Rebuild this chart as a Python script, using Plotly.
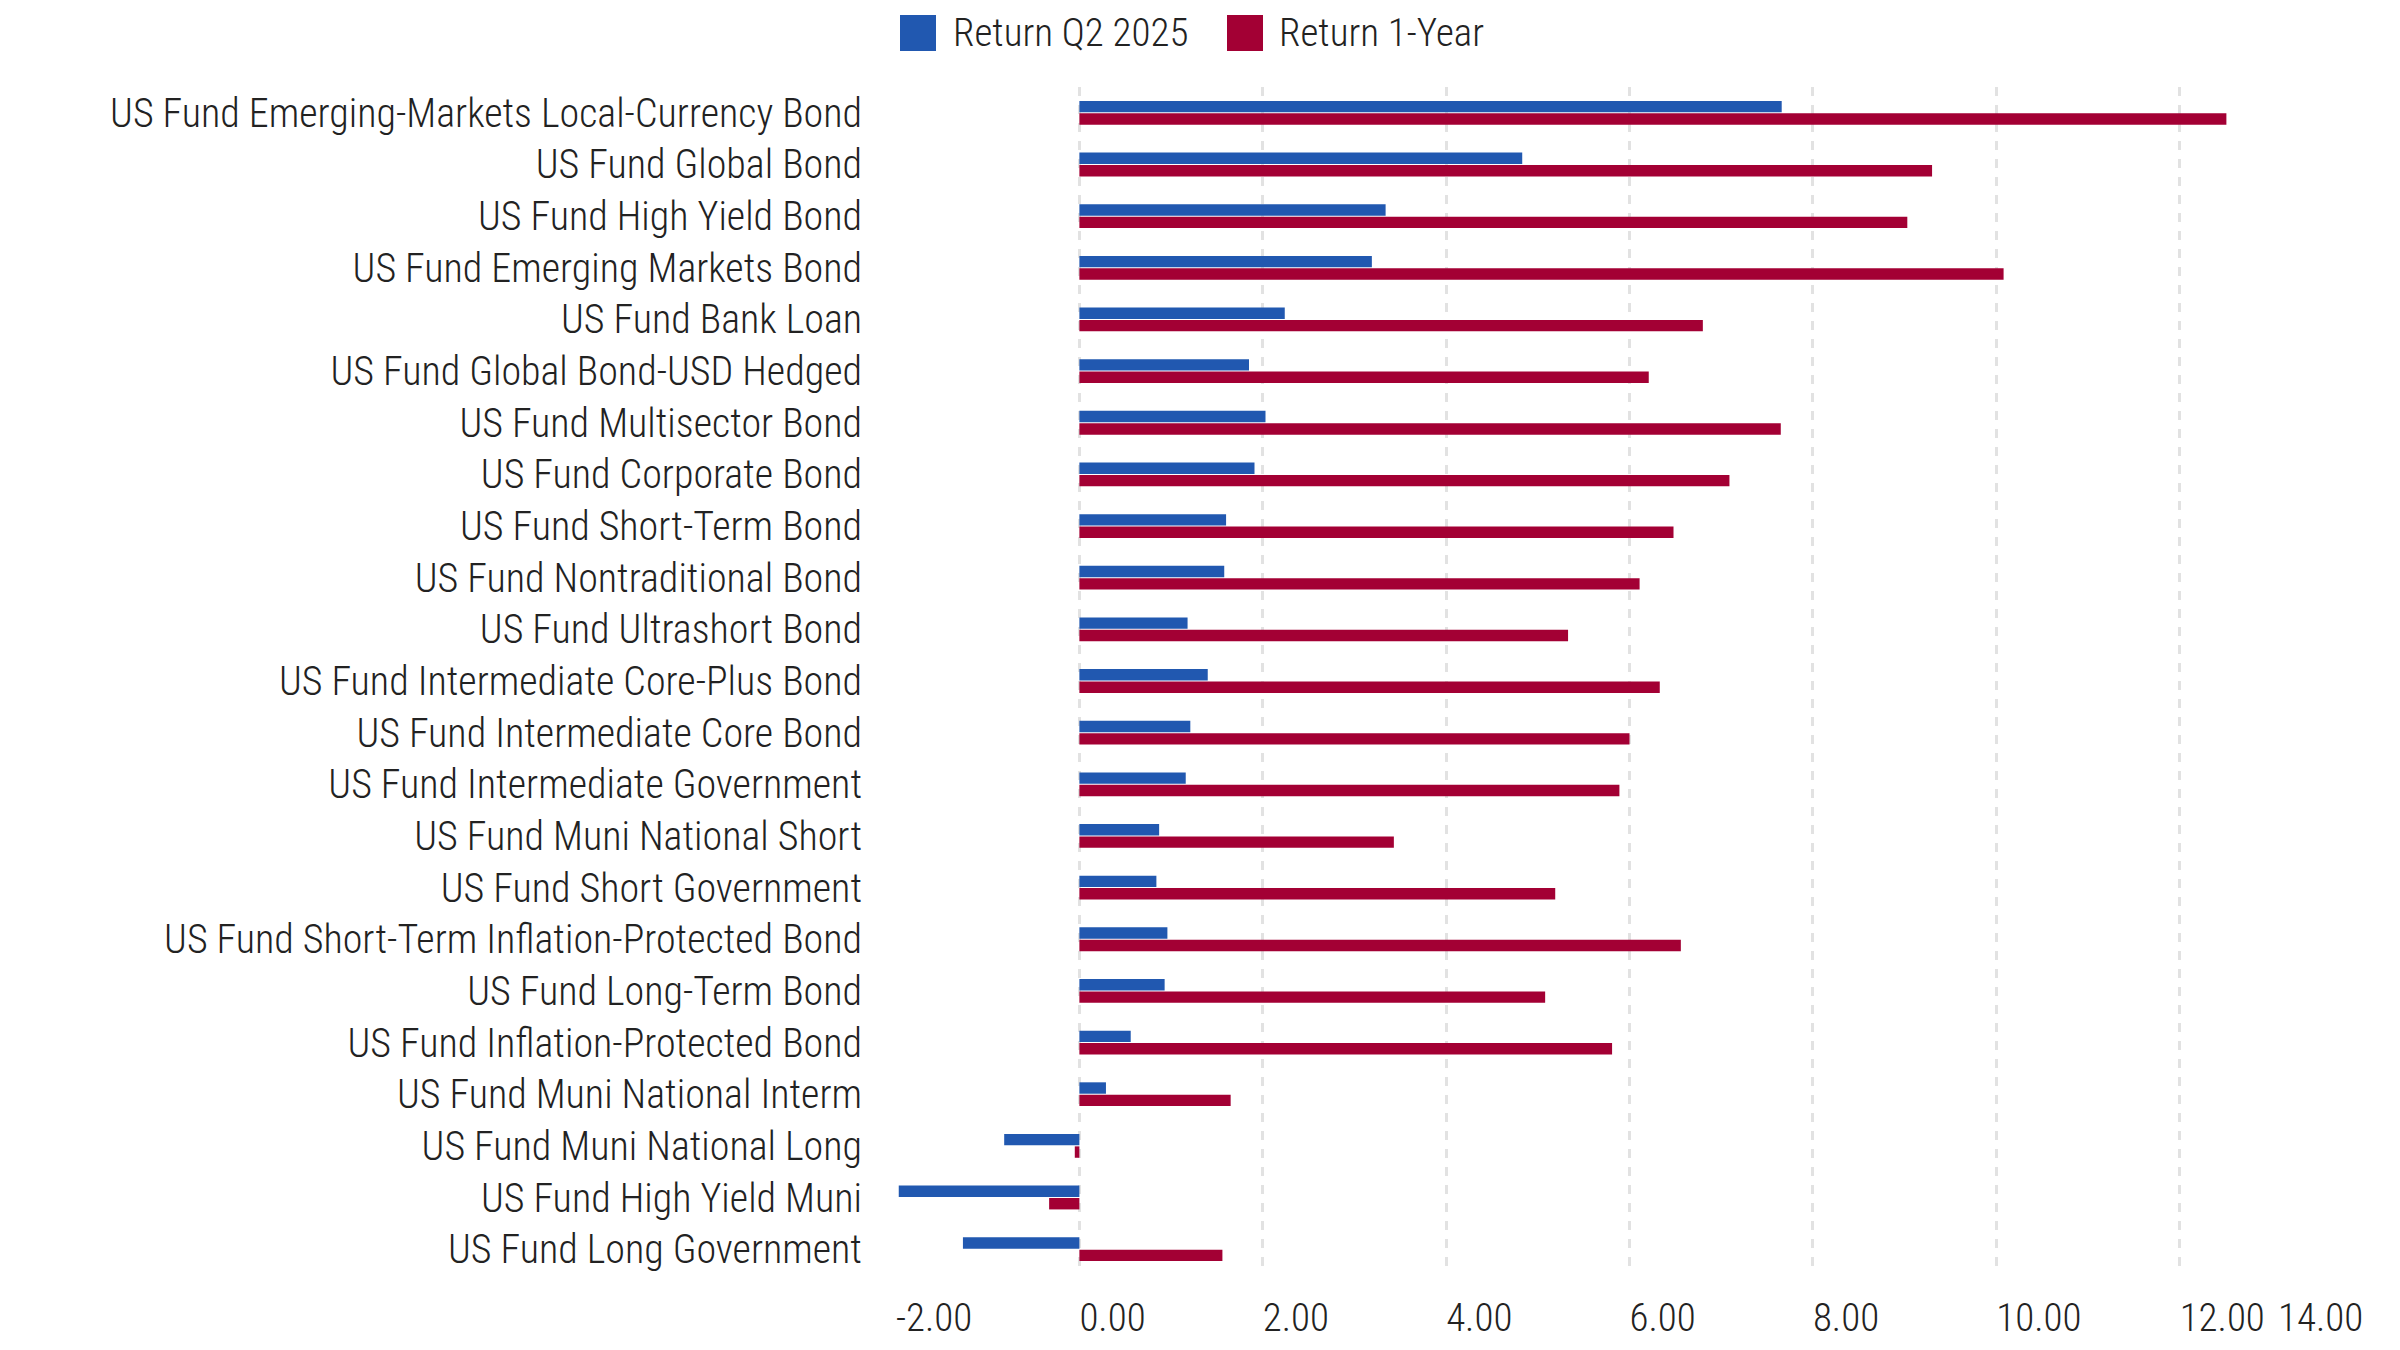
import plotly.graph_objects as go

categories = [
    "US Fund Emerging-Markets Local-Currency Bond",
    "US Fund Global Bond",
    "US Fund High Yield Bond",
    "US Fund Emerging Markets Bond",
    "US Fund Bank Loan",
    "US Fund Global Bond-USD Hedged",
    "US Fund Multisector Bond",
    "US Fund Corporate Bond",
    "US Fund Short-Term Bond",
    "US Fund Nontraditional Bond",
    "US Fund Ultrashort Bond",
    "US Fund Intermediate Core-Plus Bond",
    "US Fund Intermediate Core Bond",
    "US Fund Intermediate Government",
    "US Fund Muni National Short",
    "US Fund Short Government",
    "US Fund Short-Term Inflation-Protected Bond",
    "US Fund Long-Term Bond",
    "US Fund Inflation-Protected Bond",
    "US Fund Muni National Interm",
    "US Fund Muni National Long",
    "US Fund High Yield Muni",
    "US Fund Long Government",
]

return_q2_2025 = [7.66, 4.83, 3.34, 3.19, 2.24, 1.85, 2.03, 1.91, 1.60, 1.58, 1.18, 1.40,
                  1.21, 1.16, 0.87, 0.84, 0.96, 0.93, 0.56, 0.29, -0.82, -1.97, -1.27]
return_1_year = [12.51, 9.30, 9.03, 10.08, 6.80, 6.21, 7.65, 7.09, 6.48, 6.11, 5.33, 6.33,
                 6.00, 5.89, 3.43, 5.19, 6.56, 5.08, 5.81, 1.65, -0.05, -0.33, 1.56]

series_names = ["Return Q2 2025", "Return 1-Year"]
series_colors = ["#2158B0", "#A30034"]

x_range = [-2, 14]
x_tickvals = [-2, 0, 2, 4, 6, 8, 10, 12]
x_ticktext = ["-2.00", "0.00", "2.00", "4.00", "6.00", "8.00", "10.00", "12.00"]
grid_vals = [0, 2, 4, 6, 8, 10, 12]
last_tick_val = 14
last_tick_text = "14.00"

FONT = "Roboto Condensed"
TEXT = "#222222"
WEIGHT = 300

fig = go.Figure()
for name, vals, col in zip(series_names, [return_q2_2025, return_1_year], series_colors):
    fig.add_trace(go.Bar(
        y=categories, x=vals, name=name, orientation="h",
        marker=dict(color=col, line=dict(width=0)),
        showlegend=False,
    ))

# page offset from default body margin
OFF = 8
W, H = 2400, 1350
plot_left, plot_right, plot_top, plot_bottom = 896, 2363, 87, 1275
L = plot_left - OFF
R = W - (plot_right - OFF)
T = plot_top - OFF
B = H - (plot_bottom - OFF)
pw = plot_right - plot_left
ph = plot_bottom - plot_top

def px_x(p):
    return (p - plot_left) / pw

def px_y(p):
    return (plot_bottom - p) / ph

def tfont(size):
    return dict(family=FONT, size=size, color=TEXT, weight=WEIGHT)

shapes = []
annotations = []
# custom legend
legend_items = [
    (series_names[0], series_colors[0], 900, 953),
    (series_names[1], series_colors[1], 1227, 1279),
]
for name, col, sq_x, tx_x in legend_items:
    shapes.append(dict(type="rect", xref="paper", yref="paper",
                       x0=px_x(sq_x), x1=px_x(sq_x + 36),
                       y0=px_y(51), y1=px_y(15),
                       fillcolor=col, line=dict(width=0)))
    annotations.append(dict(xref="paper", yref="paper", x=px_x(tx_x), y=px_y(33),
                            text=name, showarrow=False, xanchor="left", yanchor="middle",
                            xshift=-2, font=tfont(39)))

# last x tick label, right-aligned to the axis end
annotations.append(dict(xref="x", yref="paper", x=last_tick_val, y=px_y(1318),
                        text=last_tick_text, showarrow=False, xanchor="right", yanchor="middle",
                        xshift=2, font=tfont(39)))

fig.update_layout(
    width=W, height=H,
    margin=dict(l=L, r=R, t=T, b=B, autoexpand=False),
    paper_bgcolor="white", plot_bgcolor="white",
    barmode="group", bargap=0.52, bargroupgap=0.08,
    font=tfont(39),
    shapes=shapes, annotations=annotations,
    xaxis=dict(
        range=x_range, tickmode="array", tickvals=x_tickvals, ticktext=x_ticktext,
        showgrid=False, zeroline=False, showline=False, ticks="",
        ticklabelposition="outside right", ticklabelstandoff=16,
        tickfont=tfont(39),
        minor=dict(tickmode="array", tickvals=grid_vals, showgrid=True,
                   gridcolor="#E2E2E2", gridwidth=2.5, griddash="dash", ticks=""),
        automargin=False, fixedrange=True,
    ),
    yaxis=dict(
        type="category", categoryorder="array", categoryarray=categories,
        autorange="reversed", showgrid=False, zeroline=False, showline=False,
        ticks="", ticklabelstandoff=33,
        tickfont=tfont(40),
        automargin=False, fixedrange=True,
    ),
)

fig.write_html("out.html")
